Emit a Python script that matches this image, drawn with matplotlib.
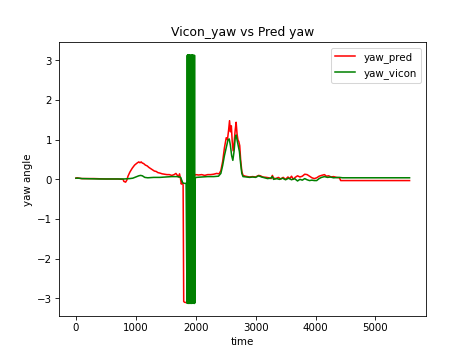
import matplotlib
matplotlib.use("Agg")
import matplotlib.pyplot as plt

title = "Vicon_yaw vs Pred yaw"
x_label = "time"
y_label = "yaw angle"
series_names = ["yaw_pred", "yaw_vicon"]

pred_t = [0, 20, 50, 100, 300, 500, 700, 790, 800, 830, 850, 870, 900, 940, 980,
          1020, 1050, 1070, 1090, 1110, 1130, 1160, 1190, 1220, 1250, 1280, 1310,
          1340, 1370, 1400, 1440, 1480, 1520, 1560, 1600, 1640, 1670, 1690, 1710,
          1730, 1745, 1760, 1775, 1790, 1800, 1815, 1900, 1970, 1980, 2000, 2050,
          2100, 2150, 2200, 2250, 2300, 2350, 2390, 2420, 2450, 2480, 2510, 2530,
          2550, 2565, 2580, 2595, 2610, 2625, 2640, 2660, 2675, 2690, 2705, 2720,
          2735, 2750, 2770, 2790, 2830, 2900, 2950, 3000, 3050, 3080, 3120, 3180,
          3220, 3260, 3280, 3300, 3340, 3380, 3420, 3460, 3500, 3540, 3570, 3600,
          3630, 3660, 3700, 3740, 3780, 3820, 3860, 3900, 3940, 3980, 4020, 4060,
          4100, 4150, 4180, 4220, 4260, 4300, 4350, 4400, 4420, 4500, 5570]
pred_v = [0.03, 0.04, 0.03, 0.02, 0.02, 0.01, 0.01, 0.0, -0.05, -0.07, -0.02, 0.08,
          0.18, 0.28, 0.36, 0.41, 0.44, 0.42, 0.44, 0.41, 0.40, 0.36, 0.34, 0.30,
          0.27, 0.24, 0.21, 0.20, 0.17, 0.16, 0.14, 0.13, 0.12, 0.12, 0.10, 0.12,
          0.15, 0.11, 0.06, 0.14, 0.03, -0.12, -0.05, -0.15, -3.08, -3.10, -3.12,
          -3.10, 0.10, 0.12, 0.11, 0.12, 0.10, 0.12, 0.12, 0.13, 0.15, 0.14, 0.22,
          0.45, 0.80, 1.05, 1.00, 1.25, 1.48, 1.20, 1.35, 0.95, 0.72, 0.90, 1.25,
          1.44, 1.15, 1.00, 0.95, 0.85, 0.50, 0.20, 0.10, 0.08, 0.06, 0.07, 0.06,
          0.10, 0.09, 0.06, 0.05, 0.04, 0.02, 0.10, 0.03, 0.02, 0.05, 0.01, 0.05,
          0.0, 0.06, 0.02, 0.08, 0.0, 0.05, 0.09, 0.06, 0.08, 0.13, 0.12, 0.08,
          0.04, 0.02, 0.04, 0.08, 0.10, 0.12, 0.08, 0.09, 0.06, 0.07, 0.05, 0.04,
          -0.03, -0.03, -0.03]

vicon_t = [0, 50, 100, 400, 700, 800, 900, 950, 1000, 1050, 1080, 1110, 1150,
           1200, 1300, 1400, 1500, 1600, 1700, 1750, 1780, 1800, 1840, 1855,
           1860, 1865, 1870, 1875, 1880, 1885, 1890, 1895, 1900, 1905, 1910, 1915,
           1920, 1925, 1930, 1935, 1940, 1945, 1950, 1955, 1960, 1965, 1970, 1975,
           1980, 1985,
           1990, 2010, 2100, 2200, 2300, 2380, 2420, 2450, 2480, 2510, 2540, 2560,
           2580, 2600, 2620, 2640, 2660, 2675, 2690, 2710, 2730, 2750, 2770, 2790,
           2850, 2900, 2950, 3000, 3050, 3100, 3150, 3200, 3250, 3280, 3300, 3350,
           3400, 3450, 3500, 3550, 3600, 3650, 3700, 3740, 3780, 3820, 3860, 3900,
           3940, 3980, 4020, 4060, 4100, 4150, 4200, 4250, 4300, 4400, 4450, 5570]
vicon_v = [0.03, 0.03, 0.02, 0.01, 0.01, 0.01, 0.02, 0.03, 0.06, 0.09, 0.10, 0.09,
           0.05, 0.04, 0.05, 0.05, 0.06, 0.07, 0.07, 0.05, -0.08, -0.10, -0.10,
           -3.12,
           3.13, -3.12, 3.14, -3.13, 3.12, -3.11, 3.14, -3.12, 3.13, -3.13, 3.12,
           -3.12, 3.14, -3.11, 3.13, -3.13, 3.12, -3.12, 3.14, -3.12, 3.13, -3.11,
           3.12, -3.13, 3.13, -3.12,
           0.03, 0.05, 0.06, 0.07, 0.07, 0.08, 0.15, 0.35, 0.60, 0.80, 1.00, 1.02,
           0.85, 0.60, 0.48, 0.70, 1.05, 1.12, 1.00, 0.85, 0.70, 0.40, 0.15, 0.07,
           0.06, 0.05, 0.06, 0.05, 0.09, 0.06, 0.04, 0.02, 0.03, 0.07, 0.0, 0.02,
           0.0, 0.03, -0.01, 0.03, -0.01, 0.02, -0.04, 0.0, -0.02, 0.02, -0.01,
           -0.03, -0.02, -0.03, -0.03, 0.02, 0.05, 0.07, 0.05, 0.06, 0.04, 0.05,
           0.04, 0.04]

fig, ax = plt.subplots(figsize=(6.4, 4.8), dpi=74)
ax.plot(pred_t, pred_v, color="red", label=series_names[0])
ax.plot(vicon_t, vicon_v, color="green", label=series_names[1])
ax.set_title(title)
ax.set_xlabel(x_label)
ax.set_ylabel(y_label)
ax.legend(loc="upper right")
fig.savefig("out.png", dpi=74)
